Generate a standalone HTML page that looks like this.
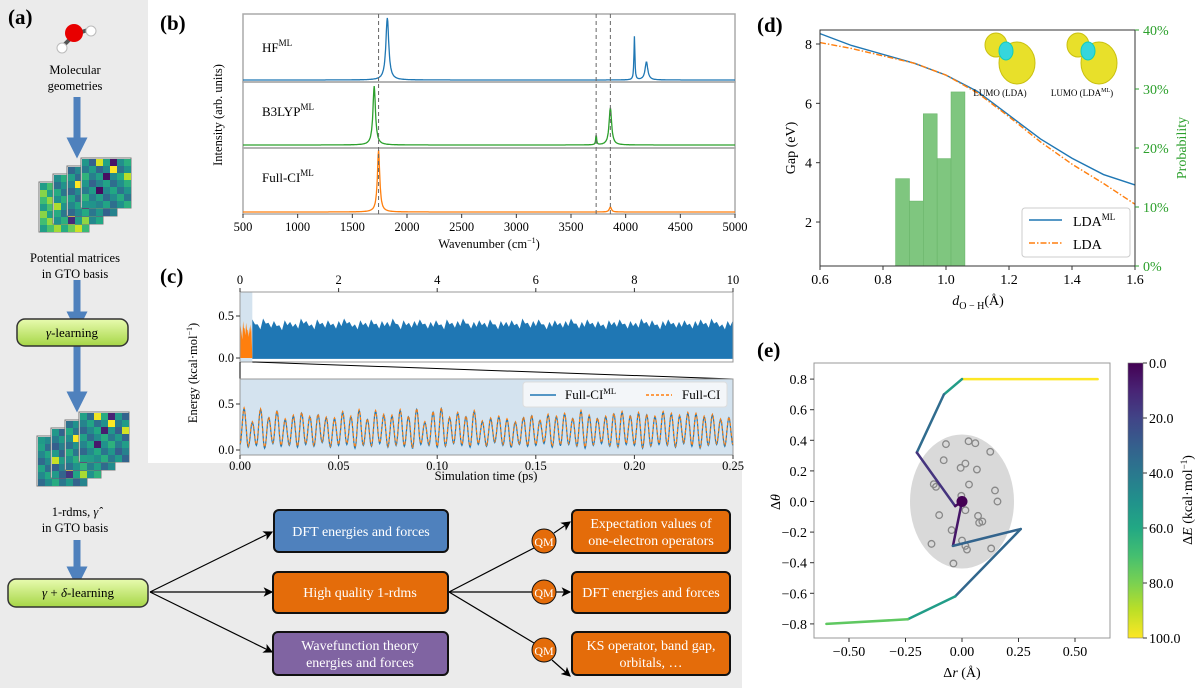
<!DOCTYPE html>
<html><head><meta charset="utf-8"><style>
body{margin:0;background:#fff;}
svg{display:block;font-family:"Liberation Serif",serif;}
</style></head><body>
<svg id="fig" width="1200" height="688" viewBox="0 0 1200 688" xmlns="http://www.w3.org/2000/svg">
<defs>
<linearGradient id="gbox" x1="0" y1="0" x2="0" y2="1"><stop offset="0" stop-color="#e8fbb0"/><stop offset="1" stop-color="#a6d646"/></linearGradient>
<linearGradient id="vir" x1="0" y1="1" x2="0" y2="0">
<stop offset="0" stop-color="#fde725"/><stop offset="0.1" stop-color="#bddf26"/><stop offset="0.2" stop-color="#7ad151"/><stop offset="0.3" stop-color="#44bf70"/><stop offset="0.4" stop-color="#22a884"/><stop offset="0.5" stop-color="#21918c"/><stop offset="0.6" stop-color="#2a788e"/><stop offset="0.7" stop-color="#355f8d"/><stop offset="0.8" stop-color="#414487"/><stop offset="0.9" stop-color="#482475"/><stop offset="1" stop-color="#440154"/></linearGradient>
<marker id="ah" markerWidth="8" markerHeight="8" refX="7" refY="4" orient="auto"><path d="M0,0 L8,4 L0,8 L2,4z" fill="#000"/></marker>
<marker id="bh" viewBox="0 0 10 10" markerWidth="3" markerHeight="3" refX="5" refY="5" orient="auto"><path d="M0,0 L10,5 L0,10z" fill="#4f81bd"/></marker>
</defs>
<!-- panel a background -->
<rect x="0" y="0" width="148" height="688" fill="#ebebeb"/>
<rect x="0" y="463" width="742" height="225" fill="#ebebeb"/>
<text x="8" y="24" font-size="21" font-weight="bold">(a)</text>
<g>
<line x1="62" y1="47" x2="75" y2="34" stroke="#555" stroke-width="4"/><line x1="75" y1="34" x2="88" y2="30" stroke="#555" stroke-width="4"/>
<circle cx="62" cy="48" r="5" fill="#fff" stroke="#bbb"/><circle cx="74" cy="33" r="9" fill="#e80000"/><circle cx="91" cy="31" r="5" fill="#fff" stroke="#bbb"/></g>
<text x="75" y="74" font-size="12.5" text-anchor="middle">Molecular</text>
<text x="75" y="90" font-size="12.5" text-anchor="middle">geometries</text>
<g id="arrows"></g>
<g id="mats"></g>
<text x="75" y="262" font-size="12.5" text-anchor="middle">Potential matrices</text>
<text x="75" y="278" font-size="12.5" text-anchor="middle">in GTO basis</text>
<rect x="17" y="319" width="111" height="27" rx="8" fill="url(#gbox)" stroke="#333" stroke-width="1.5"/>
<text x="72" y="337" font-size="13" text-anchor="middle"><tspan font-style="italic">γ</tspan>-learning</text>
<text x="75" y="516" font-size="12.5" text-anchor="middle">1-rdms, <tspan font-style="italic">γ̂</tspan></text>
<text x="75" y="532" font-size="12.5" text-anchor="middle">in GTO basis</text>
<rect x="8" y="579" width="140" height="28" rx="8" fill="url(#gbox)" stroke="#333" stroke-width="1.5"/>
<text x="78" y="597" font-size="13" text-anchor="middle"><tspan font-style="italic">γ</tspan> + <tspan font-style="italic">δ</tspan>-learning</text>
<g stroke="#000" stroke-width="1.2" fill="none">
<line x1="150" y1="592" x2="272" y2="532" marker-end="url(#ah)"/><line x1="150" y1="592" x2="272" y2="592" marker-end="url(#ah)"/><line x1="150" y1="592" x2="272" y2="652" marker-end="url(#ah)"/>
<line x1="449" y1="592" x2="534" y2="548"/><line x1="449" y1="592" x2="532" y2="592"/><line x1="449" y1="592" x2="534" y2="643"/>
<line x1="554" y1="533" x2="570" y2="522" marker-end="url(#ah)"/><line x1="556" y1="592" x2="570" y2="592" marker-end="url(#ah)"/><line x1="552" y1="660" x2="570" y2="676" marker-end="url(#ah)"/>
</g>
<g font-size="14" fill="#fff" text-anchor="middle">
<rect x="274" y="510" width="174" height="42" rx="5" fill="#4f81bd" stroke="#111" stroke-width="2"/>
<text x="361" y="536">DFT energies and forces</text>
<rect x="273" y="572" width="175" height="41" rx="5" fill="#e46c0a" stroke="#111" stroke-width="2"/>
<text x="360" y="597">High quality 1-rdms</text>
<rect x="273" y="632" width="175" height="43" rx="5" fill="#8064a2" stroke="#111" stroke-width="2"/>
<text x="360" y="650">Wavefunction theory</text>
<text x="360" y="667">energies and forces</text>
<rect x="572" y="510" width="158" height="43" rx="5" fill="#e46c0a" stroke="#111" stroke-width="2"/>
<text x="651" y="528">Expectation values of</text>
<text x="651" y="545">one-electron operators</text>
<rect x="572" y="572" width="158" height="41" rx="5" fill="#e46c0a" stroke="#111" stroke-width="2"/>
<text x="651" y="597">DFT energies and forces</text>
<rect x="572" y="632" width="158" height="43" rx="5" fill="#e46c0a" stroke="#111" stroke-width="2"/>
<text x="651" y="650">KS operator, band gap,</text>
<text x="651" y="667">orbitals, …</text>
<circle cx="544" cy="541" r="12" fill="#e46c0a" stroke="#111" stroke-width="1"/>
<text x="544" y="546" font-size="12">QM</text>
<circle cx="544" cy="592" r="12" fill="#e46c0a" stroke="#111" stroke-width="1"/>
<text x="544" y="597" font-size="12">QM</text>
<circle cx="544" cy="650" r="12" fill="#e46c0a" stroke="#111" stroke-width="1"/>
<text x="544" y="655" font-size="12">QM</text>
</g>

<!-- panel b -->
<text x="160" y="30" font-size="21" font-weight="bold">(b)</text>
<g id="pb"></g>
<!-- panel c -->
<text x="160" y="283" font-size="21" font-weight="bold">(c)</text>
<g id="pc"></g>
<!-- panel d -->
<text x="757" y="32" font-size="21" font-weight="bold">(d)</text>
<g id="pd"></g>
<!-- panel e -->
<text x="757" y="357" font-size="21" font-weight="bold">(e)</text>
<g id="pe"></g>
</svg>
<script>
// ===== data =====
const specCenters = [[1820,4080,4190],[1700,3730,3860],[1740,3860]];
const specHeights = [[1.0,0.7,0.29],[0.95,0.16,0.6],[1.0,0.08]];
const specWidths = [[16,5,15],[14,5,14],[13,12]];
const specNames = ["HF","B3LYP","Full-CI"];
const specRefLines = [1740,3730,3860];
const specTicks = [500,1000,1500,2000,2500,3000,3500,4000,4500,5000];

const topEnvelope = [0.46,0.40,0.47,0.42,0.44,0.39,0.45,0.43,0.41,0.47,0.44,0.40,0.46,0.42,0.45,0.41,0.44,0.47,0.43,0.40,0.45,0.42,0.46,0.41,0.44,0.43,0.47,0.40,0.45,0.42,0.44,0.46,0.41,0.43,0.45,0.40,0.46,0.42,0.44,0.47,0.41,0.43,0.45,0.42,0.46,0.40,0.44,0.43,0.45,0.41,0.47,0.42,0.44,0.46,0.40,0.43,0.45,0.42,0.44,0.47,0.41,0.43,0.46,0.42,0.44,0.40,0.45,0.43,0.46,0.41,0.44,0.42,0.47,0.43,0.45,0.40,0.44,0.46,0.42,0.43,0.45,0.41,0.44,0.46,0.42,0.47,0.43,0.40,0.44,0.45];
const cTopTicks = [0,2,4,6,8,10];
const mlPeaks = [0.45,0.30,0.44,0.35,0.42,0.33,0.37,0.40,0.36,0.38,0.35,0.34,0.41,0.36,0.43,0.33,0.42,0.38,0.37,0.43,0.36,0.44,0.30,0.41,0.45,0.35,0.40,0.36,0.42,0.31,0.34,0.36,0.33,0.30,0.35,0.37,0.32,0.38,0.36,0.39,0.34,0.42,0.37,0.34,0.36,0.39,0.41,0.37,0.40,0.38,0.36,0.41,0.39,0.37,0.40,0.39,0.36,0.38,0.33,0.35];
const mlTroughs = [0.06,0.03,0.05,0.02,0.07,0.04,0.05,0.03,0.06,0.04,0.08,0.03,0.05,0.06,0.02,0.05,0.04,0.07,0.03,0.05,0.04,0.02,0.06,0.05,0.03,0.04,0.07,0.05,0.03,0.06,0.04,0.08,0.05,0.03,0.06,0.04,0.05,0.07,0.03,0.05,0.06,0.04,0.02,0.05,0.07,0.04,0.03,0.06,0.05,0.02,0.04,0.06,0.05,0.03,0.07,0.04,0.02,0.05,0.06,0.04,0.05];
const fciPeaks = [0.46,0.31,0.45,0.36,0.43,0.34,0.38,0.41,0.37,0.39,0.36,0.35,0.42,0.37,0.44,0.34,0.43,0.39,0.38,0.44,0.37,0.45,0.31,0.42,0.46,0.36,0.41,0.37,0.43,0.32,0.35,0.37,0.34,0.31,0.36,0.38,0.33,0.39,0.37,0.40,0.35,0.43,0.38,0.35,0.37,0.40,0.42,0.38,0.41,0.39,0.37,0.42,0.40,0.38,0.41,0.40,0.37,0.39,0.34,0.36];
const fciTroughs = [0.07,0.04,0.06,0.03,0.08,0.05,0.06,0.04,0.07,0.05,0.09,0.04,0.06,0.07,0.03,0.06,0.05,0.08,0.04,0.06,0.05,0.03,0.07,0.06,0.04,0.05,0.08,0.06,0.04,0.07,0.05,0.09,0.06,0.04,0.07,0.05,0.06,0.08,0.04,0.06,0.07,0.05,0.03,0.06,0.08,0.05,0.04,0.07,0.06,0.03,0.05,0.07,0.06,0.04,0.08,0.05,0.03,0.06,0.07,0.05,0.06];
const cBotTicks = [0,0.05,0.10,0.15,0.20,0.25];

const dX = [0.6,0.7,0.8,0.9,1.0,1.1,1.2,1.3,1.4,1.5,1.6];
const ldaML = [8.35,7.95,7.65,7.35,6.95,6.4,5.6,4.8,4.15,3.6,3.25];
const lda = [8.05,7.85,7.6,7.35,6.95,6.35,5.55,4.7,3.95,3.3,2.6];
const histLeft = [0.84,0.884,0.928,0.972,1.016];
const histWidth = 0.044;
const histProb = [14.8,11.0,25.8,18.2,29.5];
const dXTicks = [0.6,0.8,1.0,1.2,1.4,1.6];
const dYTicks = [2,4,6,8];
const dPTicks = [0,10,20,30,40];

const eR = [-0.071,0.029,0.059,0.125,-0.081,0.015,-0.006,0.066,-0.125,-0.115,0.031,0.146,-0.003,0.157,0.015,-0.101,0.071,0.076,0.09,-0.046,0,0.015,0.022,0.129,-0.135,-0.038];
const eT = [0.375,0.394,0.381,0.325,0.27,0.248,0.22,0.209,0.113,0.096,0.111,0.072,0.037,0,-0.057,-0.089,-0.094,-0.139,-0.131,-0.187,-0.255,-0.29,-0.314,-0.307,-0.277,-0.405];
const pathR = [0.6,0,-0.08,-0.2,-0.03,0.0,-0.04,0.26,-0.03,-0.24,-0.6];
const pathT = [0.8,0.8,0.7,0.32,-0.03,0,-0.29,-0.18,-0.62,-0.77,-0.8];
const pathE = [100,55,35,15,3,6,32,33,55,75];
const eXTicks = [-0.5,-0.25,0,0.25,0.5];
const eYTicks = [-0.8,-0.6,-0.4,-0.2,0,0.2,0.4,0.6,0.8];
const cbTicks = [0,20,40,60,80,100];

// ===== helpers =====
const NS="http://www.w3.org/2000/svg";
function mk(parent, tag, attrs, txt){const e=document.createElementNS(NS,tag);for(const k in attrs)e.setAttribute(k,attrs[k]);if(txt!==undefined)e.textContent=txt;parent.appendChild(e);return e;}
function minus(v,d){const s=v.toFixed(d);return s.replace('-','−');}
const VIR=["#440154","#482475","#414487","#355f8d","#2a788e","#21918c","#22a884","#44bf70","#7ad151","#bddf26","#fde725"];
function hx(c){return [1,3,5].map(i=>parseInt(c.substr(i,2),16));}
function viridis(t){t=Math.max(0,Math.min(1,t));const f=t*10,i=Math.min(9,Math.floor(f)),u=f-i;const a=hx(VIR[i]),b=hx(VIR[i+1]);return "rgb("+a.map((v,k)=>Math.round(v+(b[k]-v)*u)).join(",")+")";}

// ===== panel a decorations =====
const arr=document.getElementById('arrows');
[[97,148],[280,322],[346,402],[540,577]].forEach((s,i)=>{
 const a=mk(arr,'line',{x1:77,y1:s[0],x2:77,y2:s[1],stroke:'#4f81bd','stroke-width':7,'marker-end':'url(#bh)'});
 
 
});
const mats=document.getElementById('mats');
function stack(ox,oy,seed){
 for(let s=0;s<4;s++){
  const x0=ox+s*14,y0=oy-s*8;
  const g=mk(mats,'g',{});
  
  
  mk(g,'rect',{x:x0-1,y:y0-1,width:50,height:50,fill:'#fff',stroke:'#777'});
  for(let r=0;r<7;r++)for(let c=0;c<7;c++){
   const v=((r*7+c)*37+seed*11+s*53)%97/97;
   const t=(s===0&&seed===0)?0.55+v*0.4:0.3+v*0.35+((r*3+c*5+s)%13===0?0.5:0)-((r+c*2+s)%11===0?0.3:0);
   mk(g,'rect',{x:x0+c*7,y:y0+r*7,width:7,height:7,fill:viridis(t)});
  }
 }
}
stack(40,183,0); stack(38,437,1);

// ===== panel b =====
const pb=document.getElementById('pb');
const bx0=243,bx1=735;
function xb(w){return bx0+(w-500)/4500*(bx1-bx0);}
const bBase=[80,145,212], bAmp=62, bCols=["#1f77b4","#2ca02c","#ff7f0e"];
const bTop=[14,82,148];
for(let k=0;k<3;k++){
 const fr=mk(pb,'rect',{x:bx0,y:bTop[k],width:bx1-bx0,height:(k<2?bTop[k+1]:214)-bTop[k],fill:'none',stroke:'#aaa','stroke-width':1.5});
 
 
 let d='';
 for(let w=500;w<=5000;w+=4){
  let y=0;for(let p=0;p<specCenters[k].length;p++){const g=specWidths[k][p];y+=specHeights[k][p]*g*g/((w-specCenters[k][p])**2+g*g);}
  d+=(w===500?'M':'L')+xb(w).toFixed(1)+','+(bBase[k]-y*bAmp).toFixed(1);
 }
 const ln=mk(pb,'path',{d:d,fill:'none',stroke:bCols[k],'stroke-width':1.3});
 
 
 const lb=mk(pb,'text',{x:262,y:[52,116,182][k],'font-size':13});
 
 
 lb.appendChild(document.createTextNode(specNames[k]));
 mk(lb,'tspan',{dy:-6,'font-size':9},'ML');
}
specRefLines.forEach(w=>{
 const l=mk(pb,'line',{x1:xb(w),y1:14,x2:xb(w),y2:214,stroke:'#666','stroke-width':1,'stroke-dasharray':'4,3'});
 
 
});
specTicks.forEach(t=>{
 mk(pb,'line',{x1:xb(t),y1:214,x2:xb(t),y2:218,stroke:'#333'});
 const tl=mk(pb,'text',{x:xb(t),y:231,'font-size':12.5,'text-anchor':'middle'},String(t));
 
 
});
{const t=mk(pb,'text',{x:489,y:248,'font-size':12.5,'text-anchor':'middle'},'Wavenumber (cm');
 
 
 mk(t,'tspan',{dy:-5,'font-size':8},'−1');mk(t,'tspan',{dy:5},')');
 const y=mk(pb,'text',{x:0,y:0,'font-size':12.5,'text-anchor':'middle',transform:'translate(222,115) rotate(-90)'},'Intensity (arb. units)');
 
 }

// ===== panel c =====
const pc=document.getElementById('pc');
const cx0=240,cx1=733;
function xt(t){return cx0+t/10*(cx1-cx0);}
function yt(v){return 358-v*84;}
function xc(t){return cx0+t/0.25*(cx1-cx0);}
function yc(v){return 450-v*92;}
{const r=mk(pc,'rect',{x:cx0,y:292,width:xt(0.25)-cx0,height:70,fill:'#d4e3ef'});
 }
{// blue envelope band
 let d='M'+xt(0.25)+','+yt(-0.01);
 const n=topEnvelope.length;
 topEnvelope.forEach((v,i)=>{const t=0.25+i*(9.75/(n-1));d+='L'+xt(t).toFixed(1)+','+yt(v).toFixed(1);if(i<n-1)d+='L'+xt(t+9.75/(n-1)/2).toFixed(1)+','+yt(v-0.06).toFixed(1);});
 d+='L'+xt(10)+','+yt(-0.01)+'Z';
 const p=mk(pc,'path',{d:d,fill:'#1f77b4'});
 
 let d2='M'+xt(0)+','+yt(0.0);
 mlPeaks.slice(0,8).forEach((v,i)=>{d2+='L'+xt(i*0.031).toFixed(1)+','+yt(v).toFixed(1)+'L'+xt(i*0.031+0.015).toFixed(1)+','+yt(v-0.08).toFixed(1);});
 d2+='L'+xt(0.25)+','+yt(0)+'Z';
 const o=mk(pc,'path',{d:d2,fill:'#ff7f0e'});
 }
{const f=mk(pc,'rect',{x:cx0,y:292,width:cx1-cx0,height:70,fill:'none',stroke:'#999'});
 }
cTopTicks.forEach(t=>{mk(pc,'line',{x1:xt(t),y1:292,x2:xt(t),y2:288,stroke:'#333'});
 const l=mk(pc,'text',{x:xt(t),y:284,'font-size':12.5,'text-anchor':'middle'},String(t));
 });
[0,0.5].forEach(v=>{mk(pc,'line',{x1:cx0,y1:yt(v),x2:cx0-4,y2:yt(v),stroke:'#333'});
 const l=mk(pc,'text',{x:cx0-6,y:yt(v)+4,'font-size':12.5,'text-anchor':'end'},v.toFixed(1));
 });
mk(pc,'line',{x1:cx0,y1:362,x2:cx0,y2:379,stroke:'#000'});
mk(pc,'line',{x1:xt(0.25),y1:362,x2:cx1,y2:379,stroke:'#000'});
{const r=mk(pc,'rect',{x:cx0,y:379,width:cx1-cx0,height:76,fill:'#d4e3ef',stroke:'#999'});
 }
function osc(peaks,troughs){
 const N=peaks.length,T=0.25/N;let d='';
 for(let i=0;i<N;i++){
  for(let s=0;s<=8;s++){const u=s/8,t=i*T+u*T/2,v=troughs[i]+(peaks[i]-troughs[i])*(1-Math.cos(Math.PI*u))/2;d+=(d?'L':'M')+xc(t).toFixed(1)+','+yc(v).toFixed(1);}
  for(let s=1;s<=8;s++){const u=s/8,t=i*T+T/2+u*T/2,v=troughs[i+1]+(peaks[i]-troughs[i+1])*(1+Math.cos(Math.PI*u))/2;d+='L'+xc(t).toFixed(1)+','+yc(v).toFixed(1);}
 }
 return d;
}
{const a=mk(pc,'path',{d:osc(mlPeaks,mlTroughs),fill:'none',stroke:'#1f77b4','stroke-width':1.2});
 
 const b=mk(pc,'path',{d:osc(fciPeaks,fciTroughs),fill:'none',stroke:'#ff7f0e','stroke-width':1.1,'stroke-dasharray':'3,2'});
 }
cBotTicks.forEach(t=>{mk(pc,'line',{x1:xc(t),y1:455,x2:xc(t),y2:459,stroke:'#333'});
 const l=mk(pc,'text',{x:xc(t),y:470,'font-size':12.5,'text-anchor':'middle'},t.toFixed(2));
 });
[0,0.5].forEach(v=>{mk(pc,'line',{x1:cx0,y1:yc(v),x2:cx0-4,y2:yc(v),stroke:'#333'});
 const l=mk(pc,'text',{x:cx0-6,y:yc(v)+4,'font-size':12.5,'text-anchor':'end'},v.toFixed(1));
 });
{const g=mk(pc,'g',{});
 mk(g,'rect',{x:523,y:382,width:204,height:25,rx:3,fill:'#f3f6f9',stroke:'#ddd'});
 mk(g,'line',{x1:530,y1:395,x2:556,y2:395,stroke:'#1f77b4','stroke-width':1.5});
 const t1=mk(g,'text',{x:565,y:399,'font-size':13},'Full-CI');mk(t1,'tspan',{dy:-5,'font-size':8.5},'ML');
 mk(g,'line',{x1:646,y1:395,x2:672,y2:395,stroke:'#ff7f0e','stroke-width':1.5,'stroke-dasharray':'3,2'});
 mk(g,'text',{x:682,y:399,'font-size':13},'Full-CI');
 const xl=mk(pc,'text',{x:486,y:480,'font-size':12.5,'text-anchor':'middle'},'Simulation time (ps)');
 
 const yl=mk(pc,'text',{x:0,y:0,'font-size':12.5,'text-anchor':'middle',transform:'translate(197,373) rotate(-90)'},'Energy (kcal·mol');
 mk(yl,'tspan',{dy:-5,'font-size':8},'−1');mk(yl,'tspan',{dy:5},')');
 }

// ===== panel d =====
const pd=document.getElementById('pd');
function xd(x){return 820+(x-0.6)*315;}
function yd(g){return 44+(8-g)*29.67;}
function yp(p){return 266-p/40*236;}
histLeft.forEach((l,i)=>{const r=mk(pd,'rect',{x:xd(l),y:yp(histProb[i]),width:histWidth*315,height:266-yp(histProb[i]),fill:'#7fc67f',stroke:'#6ab56a','stroke-width':0.6});
 });
{const a=mk(pd,'polyline',{points:dX.map((x,i)=>xd(x)+','+yd(ldaML[i])).join(' '),fill:'none',stroke:'#1f77b4','stroke-width':1.4});
 
 const b=mk(pd,'polyline',{points:dX.map((x,i)=>xd(x)+','+yd(lda[i])).join(' '),fill:'none',stroke:'#ff7f0e','stroke-width':1.4,'stroke-dasharray':'6,2,1.5,2'});
 }
{const f=mk(pd,'rect',{x:820,y:30,width:315,height:236,fill:'none',stroke:'#333','stroke-width':1});
 }
dXTicks.forEach(x=>{mk(pd,'line',{x1:xd(x),y1:266,x2:xd(x),y2:270,stroke:'#333'});
 const l=mk(pd,'text',{x:xd(x),y:284,'font-size':14,'text-anchor':'middle'},x.toFixed(1));});
dYTicks.forEach(g=>{mk(pd,'line',{x1:820,y1:yd(g),x2:816,y2:yd(g),stroke:'#333'});
 const l=mk(pd,'text',{x:812,y:yd(g)+5,'font-size':14,'text-anchor':'end'},String(g));});
dPTicks.forEach(p=>{mk(pd,'line',{x1:1135,y1:yp(p),x2:1139,y2:yp(p),stroke:'#2ca02c'});
 const l=mk(pd,'text',{x:1143,y:yp(p)+5,'font-size':14,fill:'#2ca02c'},p+'%');});
{const xl=mk(pd,'text',{x:978,y:305,'font-size':14,'text-anchor':'middle'});
 mk(xl,'tspan',{'font-style':'italic'},'d');mk(xl,'tspan',{dy:4,'font-size':10},'O − H');mk(xl,'tspan',{dy:-4},'(Å)');
 
 const yl=mk(pd,'text',{x:0,y:0,'font-size':14,'text-anchor':'middle',transform:'translate(795,148) rotate(-90)'},'Gap (eV)');
 
 const pl=mk(pd,'text',{x:0,y:0,'font-size':14,'text-anchor':'middle',fill:'#2ca02c',transform:'translate(1186,148) rotate(-90)'},'Probability');
 
 const g=mk(pd,'g',{});
 mk(g,'rect',{x:1022,y:208,width:108,height:49,rx:3,fill:'#fff',stroke:'#ccc'});
 mk(g,'line',{x1:1029,y1:220,x2:1062,y2:220,stroke:'#1f77b4','stroke-width':1.5});
 const t1=mk(g,'text',{x:1073,y:226,'font-size':14},'LDA');mk(t1,'tspan',{dy:-6,'font-size':9},'ML');
 mk(g,'line',{x1:1029,y1:243,x2:1062,y2:243,stroke:'#ff7f0e','stroke-width':1.5,'stroke-dasharray':'6,2,1.5,2'});
 mk(g,'text',{x:1073,y:249,'font-size':14},'LDA');
 [[1010,''],[1092,'ML']].forEach((o,i)=>{
  const og=mk(pd,'g',{});
  const cx=o[0];
  mk(og,'ellipse',{cx:cx-14,cy:45,rx:11,ry:12,fill:'#e8e02a',stroke:'#c9c010'});
  mk(og,'ellipse',{cx:cx+7,cy:63,rx:18,ry:21,fill:'#e8e02a',stroke:'#c9c010'});
  mk(og,'ellipse',{cx:cx-4,cy:51,rx:7,ry:9,fill:'#35d6dd',stroke:'#1cb'});
  const lt=mk(og,'text',{x:cx-10,y:96,'font-size':9,'text-anchor':'middle'},'LUMO (LDA');
  if(o[1])mk(lt,'tspan',{dy:-4,'font-size':6},'ML');
  mk(lt,'tspan',{dy:o[1]?4:0},')');
 });}

// ===== panel e =====
const pe=document.getElementById('pe');
function xe(r){return 962+r*226;}
function ye(t){return 501.5-t*153;}
{const f=mk(pe,'rect',{x:814,y:363,width:296,height:275,fill:'#fff',stroke:'#999'});
 
 const el=mk(pe,'ellipse',{cx:xe(0),cy:ye(0),rx:52,ry:67,fill:'#d9d9d9'});
 }
eR.forEach((r,i)=>{const c=mk(pe,'circle',{cx:xe(r),cy:ye(eT[i]),r:3.3,fill:'none',stroke:'#888','stroke-width':1.3});
 });
for(let i=0;i<pathE.length;i++){
 const l=mk(pe,'line',{x1:xe(pathR[i]),y1:ye(pathT[i]),x2:xe(pathR[i+1]),y2:ye(pathT[i+1]),stroke:viridis(pathE[i]/100),'stroke-width':2.5,'stroke-linecap':'round'});
 
}
{const d=mk(pe,'circle',{cx:xe(0),cy:ye(0),r:5.5,fill:'#440154'});}
eXTicks.forEach(x=>{mk(pe,'line',{x1:xe(x),y1:638,x2:xe(x),y2:642,stroke:'#333'});
 const l=mk(pe,'text',{x:xe(x),y:656,'font-size':14,'text-anchor':'middle'},minus(x,2));});
eYTicks.forEach(t=>{mk(pe,'line',{x1:814,y1:ye(t),x2:810,y2:ye(t),stroke:'#333'});
 const l=mk(pe,'text',{x:807,y:ye(t)+5,'font-size':14,'text-anchor':'end'},minus(t,1));});
{const xl=mk(pe,'text',{x:962,y:677,'font-size':14,'text-anchor':'middle'},'Δ');mk(xl,'tspan',{'font-style':'italic'},'r');mk(xl,'tspan',{},' (Å)');
 
 const yl=mk(pe,'text',{x:0,y:0,'font-size':14,'text-anchor':'middle',transform:'translate(780,502) rotate(-90)'},'Δ');mk(yl,'tspan',{'font-style':'italic'},'θ');
 
 const cb=mk(pe,'rect',{x:1128,y:363,width:15,height:275,fill:'url(#vir)',stroke:'#777','stroke-width':0.6});
 
 cbTicks.forEach(v=>{const y=363+v/100*275;mk(pe,'line',{x1:1143,y1:y,x2:1147,y2:y,stroke:'#333'});
  const l=mk(pe,'text',{x:1149,y:y+5,'font-size':14},v.toFixed(1));});
 const ct=mk(pe,'text',{x:0,y:0,'font-size':14,'text-anchor':'middle',transform:'translate(1192,500) rotate(-90)'},'Δ');
 mk(ct,'tspan',{'font-style':'italic'},'E');mk(ct,'tspan',{},' (kcal·mol');mk(ct,'tspan',{dy:-5,'font-size':9},'−1');mk(ct,'tspan',{dy:5},')');
 }
</script>
</body></html>
